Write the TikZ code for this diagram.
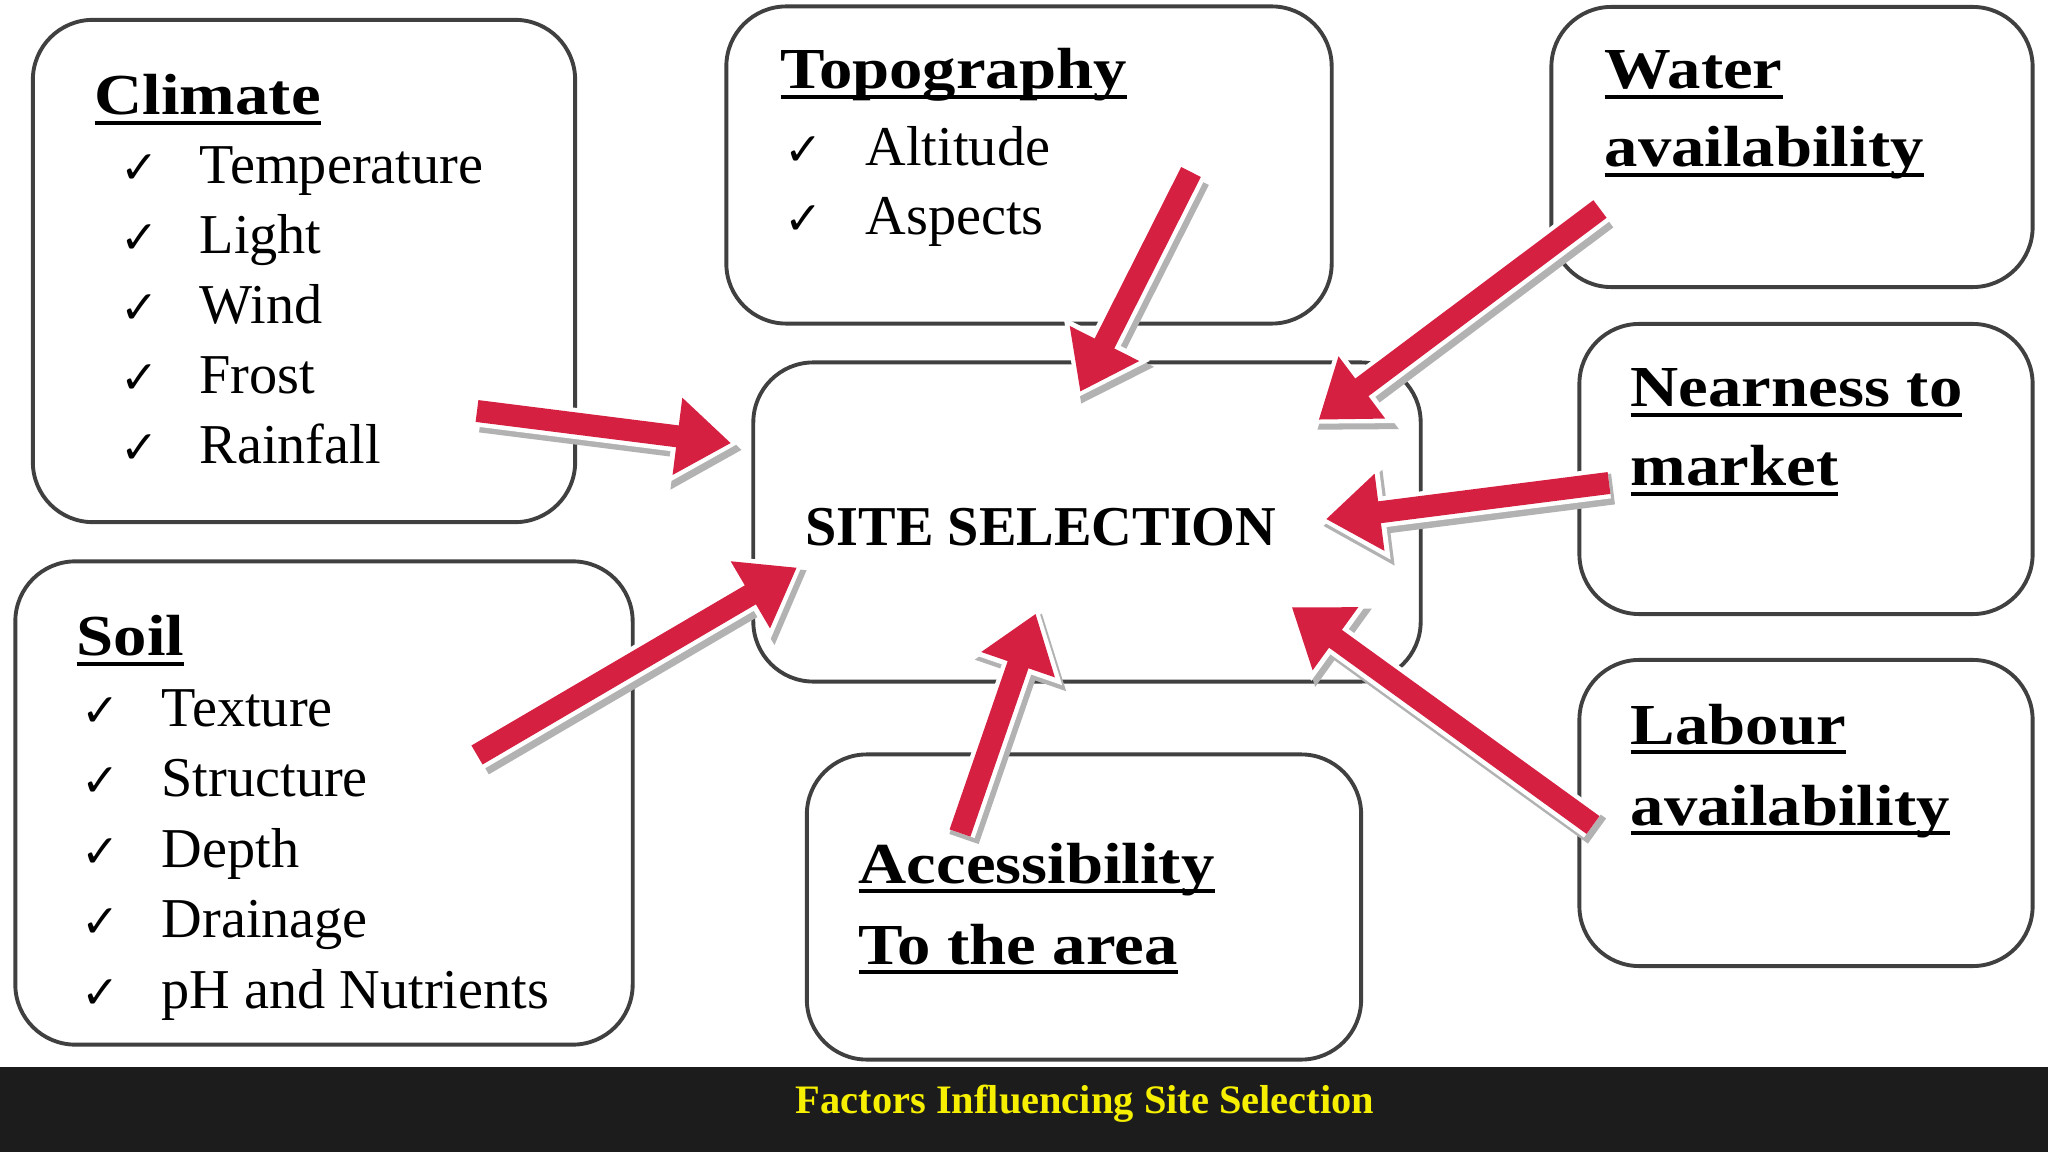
\documentclass[tikz,border=0pt]{standalone}
\usepackage{fontspec}
\setmainfont{Liberation Serif}
\newfontfamily\checkfont{DejaVu Sans}
\usepackage{graphicx}
\usepackage{xcolor}
\usetikzlibrary{positioning,arrows.meta}
\definecolor{arrowRed}{HTML}{D62042}
\definecolor{barBlack}{HTML}{1C1C1C}
\definecolor{capYellow}{HTML}{F6F000}
\tikzstyle{factorBox}  =[draw=black!75, line width=1.1pt, rounded corners=0.6cm, fill=white]
\tikzstyle{itemText}   =[anchor=base west, inner sep=0pt, font=\fontsize{16}{18}\selectfont]
\tikzstyle{checkMark}  =[anchor=base west, inner sep=0pt, font=\checkfont\fontsize{13}{15}\selectfont]
\tikzstyle{titleText}  =[anchor=base west, inner sep=0pt, font=\fontsize{16.5}{18}\selectfont\bfseries]
\tikzstyle{siteText}   =[anchor=base, inner sep=0pt, font=\fontsize{16}{18}\selectfont\bfseries]
\tikzstyle{captionText}=[anchor=base, inner sep=0pt, text=capYellow, font=\fontsize{11.5}{13}\selectfont\bfseries]
\tikzstyle{arrowShadow}=[draw=gray!60, line width=0.31cm, -{Triangle[length=0.66cm,width=0.92cm]}]
\tikzstyle{arrowRim}   =[draw=white, line width=0.31cm, -{Triangle[length=0.66cm,width=0.92cm]}]
\tikzstyle{arrowBody}  =[draw=arrowRed, line width=0.22cm, shorten >=0.07cm, -{Triangle[length=0.54cm,width=0.74cm]}]
% stretched bold heading with a thick rule under it
\newcommand{\titleul}[1]{\setbox0=\hbox{\scalebox{1.15}[1]{#1}}\rlap{\rule[-0.17em]{\wd0}{0.075em}}\box0}
% red block arrow with white rim and grey shadow
\newcommand{\siteArrow}[2]{
  \draw[arrowShadow] ([shift={(4,6)}]#1) -- ([shift={(4,6)}]#2);
  \draw[arrowRim] (#1) -- (#2);
  \draw[arrowBody] (#1) -- (#2);
}

\begin{document}
\begin{tikzpicture}[x=0.01cm, y=-0.01cm]
      \useasboundingbox (0,0) rectangle (2048,1152);
      \fill[white] (0,0) rectangle (2048,1067);
      \fill[barBlack] (0,1067) rectangle (2048,1152);
      % boxes
      \node[factorBox, minimum width=5.42cm, minimum height=5.02cm] (climate) at (304,271) {};
      \node[factorBox, minimum width=6.05cm, minimum height=3.17cm] (topo) at (1029,165) {};
      \node[factorBox, minimum width=4.81cm, minimum height=2.80cm] (water) at (1792,147) {};
      \node[factorBox, minimum width=4.53cm, minimum height=2.90cm] (market) at (1806,469) {};
      \node[factorBox, minimum width=4.53cm, minimum height=3.06cm] (labour) at (1806,813) {};
      \node[factorBox, minimum width=6.67cm, minimum height=3.19cm] (site) at (1087,522) {};
      \node[factorBox, minimum width=6.17cm, minimum height=4.83cm] (soil) at (324,803) {};
      \node[factorBox, minimum width=5.54cm, minimum height=3.05cm] (access) at (1084,907) {};
      % texts
      \node[titleText] (climateTitle) at (94,115) {\titleul{Climate}};
      \foreach \txt [count=\i] in {Temperature,Light,Wind,Frost,Rainfall} {
        \node[checkMark] (climateChk\i) at (120,{184+70*(\i-1)}) {✓};
        \node[itemText] (climateItem\i) at (199,{184+70*(\i-1)}) {\txt};
      }
      \node[titleText] (topoTitle) at (780,89) {\titleul{Topography}};
      \foreach \txt [count=\i] in {Altitude,Aspects} {
        \node[checkMark] (topoChk\i) at (784,{166+69*(\i-1)}) {✓};
        \node[itemText] (topoItem\i) at (865,{166+69*(\i-1)}) {\txt};
      }
      \node[titleText] (waterTitle1) at (1604,89) {\titleul{Water}};
      \node[titleText] (waterTitle2) at (1604,167) {\titleul{availability}};
      \node[titleText] (marketTitle1) at (1630,407) {\titleul{Nearness to}};
      \node[titleText] (marketTitle2) at (1630,486) {\titleul{market}};
      \node[titleText] (labourTitle1) at (1630,744) {\titleul{Labour}};
      \node[titleText] (labourTitle2) at (1630,825) {\titleul{availability}};
      \node[titleText] (accessTitle1) at (858,883) {\titleul{Accessibility}};
      \node[titleText] (accessTitle2) at (858,964) {\titleul{To the area}};
      \node[titleText] (soilTitle) at (76,656) {\titleul{Soil}};
      \foreach \txt [count=\i] in {Texture,Structure,Depth,Drainage,pH and Nutrients} {
        \node[checkMark] (soilChk\i) at (81,{726+70.5*(\i-1)}) {✓};
        \node[itemText] (soilItem\i) at (161,{726+70.5*(\i-1)}) {\txt};
      }
      \node[siteText] (siteLabel) at (1041,545) {SITE SELECTION};
      \node[captionText] (caption) at (1085,1113) {Factors Influencing Site Selection};
      % arrow ends
      \coordinate (climateTail) at (477,411);  \coordinate (climateTip) at (738,444);
      \coordinate (topoTail) at (1191,172);    \coordinate (topoTip) at (1077,398);
      \coordinate (waterTail) at (1600,209);   \coordinate (waterTip) at (1313,424);
      \coordinate (marketTail) at (1609,483);  \coordinate (marketTip) at (1319,520);
      \coordinate (labourTail) at (1593,825);  \coordinate (labourTip) at (1286,603);
      \coordinate (accessTail) at (960,833);   \coordinate (accessTip) at (1038,607);
      \coordinate (soilTail) at (477,755);     \coordinate (soilTip) at (803,564);
      \siteArrow{climateTail}{climateTip}
      \siteArrow{topoTail}{topoTip}
      \siteArrow{waterTail}{waterTip}
      \siteArrow{marketTail}{marketTip}
      \siteArrow{labourTail}{labourTip}
      \siteArrow{accessTail}{accessTip}
      \siteArrow{soilTail}{soilTip}
    \end{tikzpicture}
\end{document}
